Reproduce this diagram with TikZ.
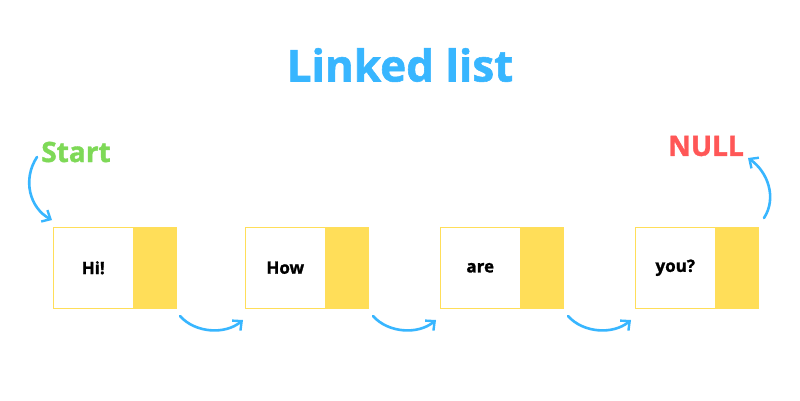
\documentclass[tikz,border=0pt]{standalone}
\usepackage{fontspec}
\setmainfont{Open Sans}
\newfontfamily\heavyfont[BoldFeatures={FakeBold=1.3}]{Open Sans}
\usetikzlibrary{arrows.meta}
\definecolor{lblue}{HTML}{38B6FF}
\definecolor{lgreen}{HTML}{7ED957}
\definecolor{lred}{HTML}{FF5757}
\definecolor{lyellow}{HTML}{FFDE59}
\tikzset{
  cell/.style={draw=lyellow, line width=1.5pt, fill=white, minimum width=80pt, minimum height=81pt, inner sep=0pt, font=\heavyfont\bfseries\fontsize{17}{19}\selectfont, text=black},
  ptr/.style={fill=lyellow, draw=lyellow, line width=1.5pt, minimum width=42pt, minimum height=81pt, inner sep=0pt},
  link/.style={draw=lblue, line width=2.6pt, line cap=round, -{Straight Barb[length=7pt, width=13pt, line width=2.4pt]}}
}
\begin{document}
\begin{tikzpicture}[x=1pt,y=-1pt]
\useasboundingbox (0,0) rectangle (800,400);
\fill[white] (0,0) rectangle (800,400);
\node[text=lblue, font=\heavyfont\bfseries\fontsize{44}{50}\selectfont] (title) at (400,65) {Linked list};
\node[text=lgreen, font=\heavyfont\bfseries\fontsize{28}{32}\selectfont] (start) at (76,152) {Start};
\node[text=lred, font=\heavyfont\bfseries\fontsize{28}{32}\selectfont] (null) at (706,146) {NULL};
% nodes
\node[cell, anchor=north west] (c1) at (52.5,226.5) {Hi!};
\node[ptr, anchor=north west] (p1) at (133,226.5) {};
\node[cell, anchor=north west] (c2) at (244.5,226.5) {How};
\node[ptr, anchor=north west] (p2) at (325.5,226.5) {};
\node[cell, anchor=north west] (c3) at (439.5,226.5) {are};
\node[ptr, anchor=north west] (p3) at (520.5,226.5) {};
\node[cell, anchor=north west] (c4) at (634.5,226.5) {you?};
\node[ptr, anchor=north west] (p4) at (715.5,226.5) {};
% connectors
\coordinate (s0) at (37,157);
\coordinate (s1) at (52,220);
\draw[link] (s0) .. controls (22,180) and (30,208) .. (s1);
\coordinate (a0) at (180,316);
\coordinate (a1) at (243,320);
\draw[link] (a0) .. controls (195,333) and (225,335) .. (a1);
\coordinate (b0) at (373,316);
\coordinate (b1) at (436,320);
\draw[link] (b0) .. controls (388,333) and (418,335) .. (b1);
\coordinate (d0) at (568,316);
\coordinate (d1) at (631,320);
\draw[link] (d0) .. controls (583,333) and (613,335) .. (d1);
\coordinate (n0) at (764,218);
\coordinate (n1) at (748,158);
\draw[link] (n0) .. controls (777,198) and (768,172) .. (n1);
\end{tikzpicture}
\end{document}
